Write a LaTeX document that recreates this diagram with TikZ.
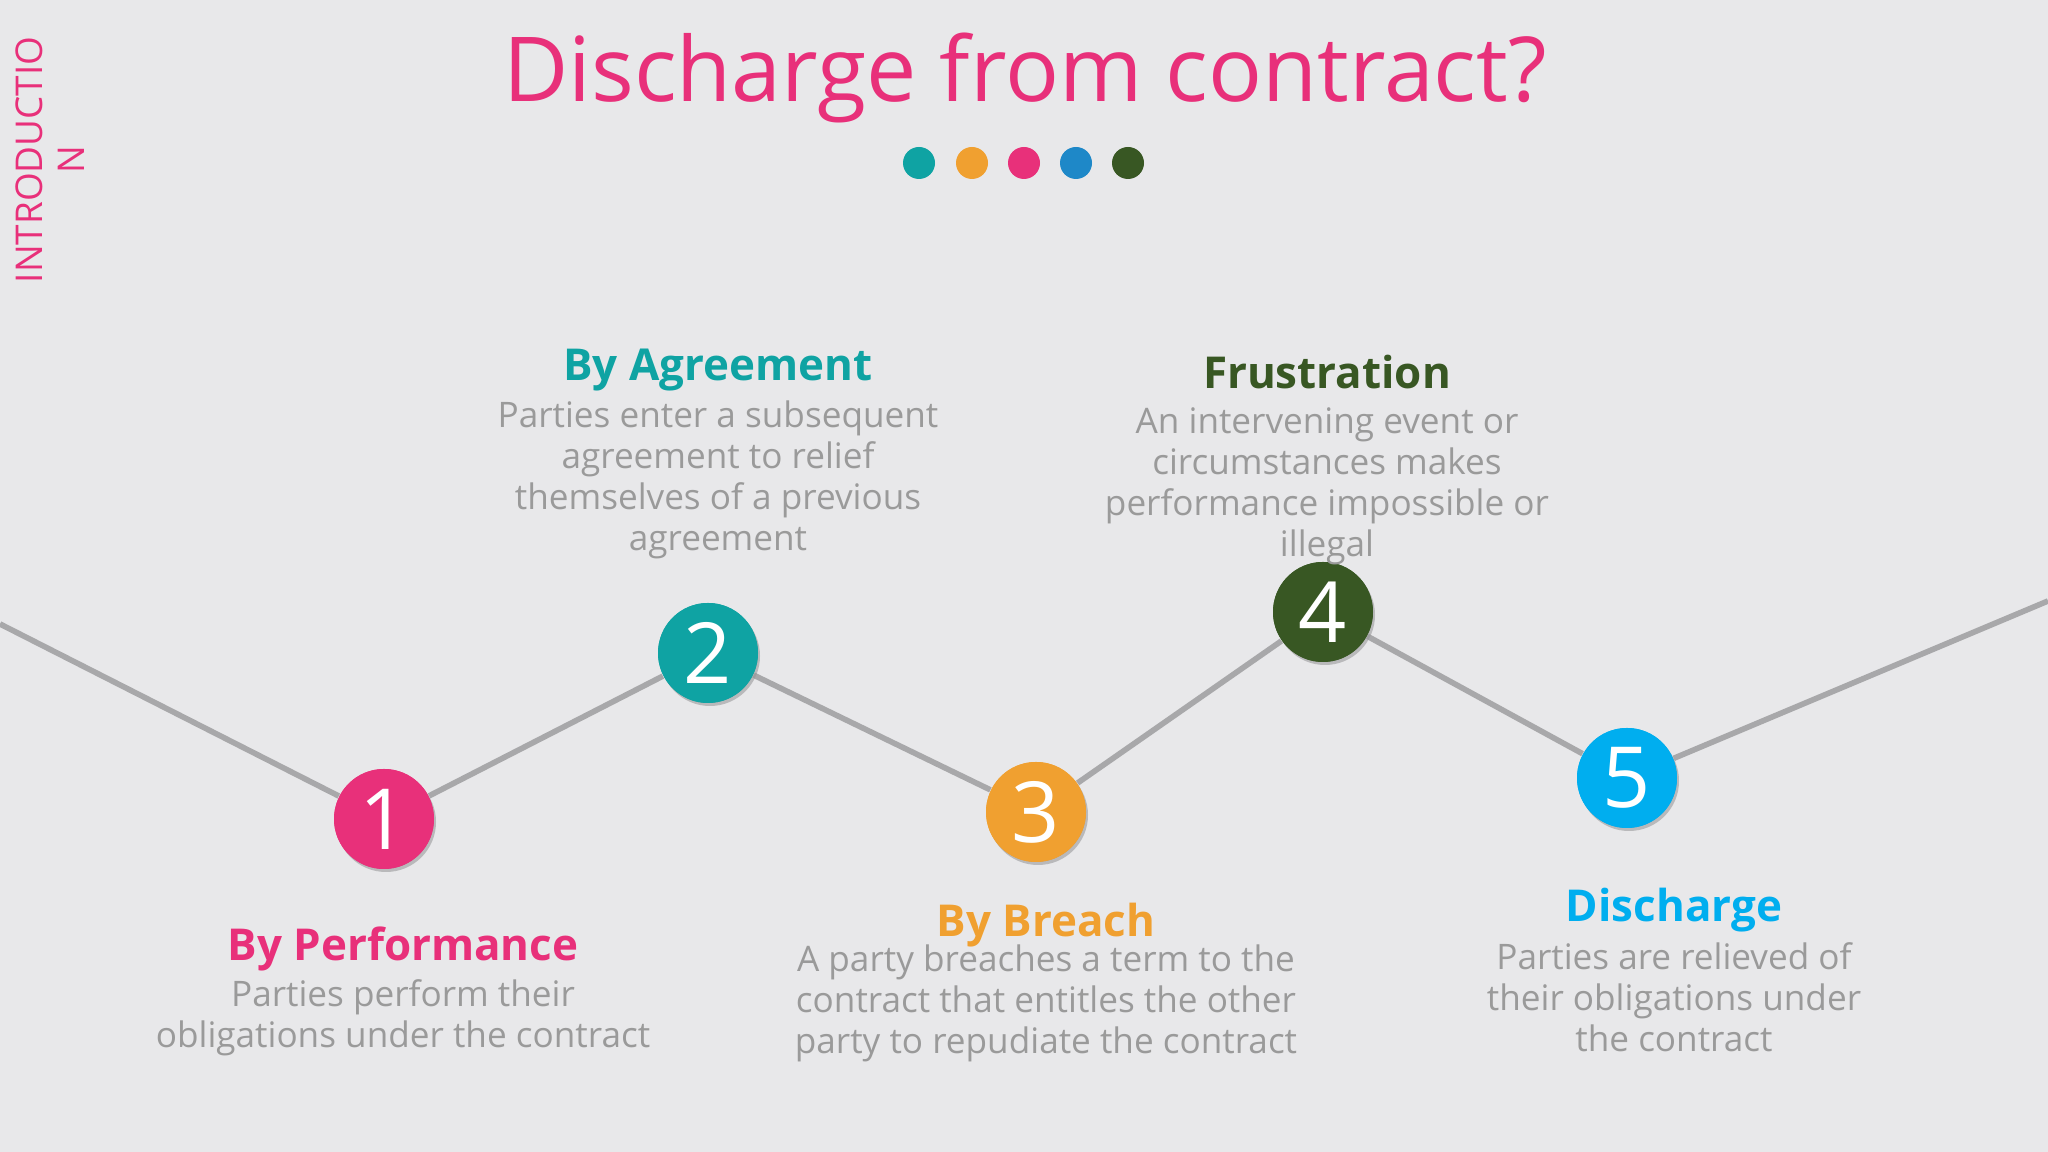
\documentclass[tikz,border=0pt]{standalone}
\usepackage{fontspec}
\setmainfont{Open Sans}
\usetikzlibrary{shadows}
\definecolor{bg}{HTML}{E8E8EA}
\definecolor{cpink}{HTML}{E8307A}
\definecolor{cteal}{HTML}{0FA3A3}
\definecolor{corange}{HTML}{F0A030}
\definecolor{cblue}{HTML}{1E88C8}
\definecolor{cgreen}{HTML}{385723}
\definecolor{ccyan}{HTML}{00AEEF}
\definecolor{cgray}{HTML}{9A9A9A}
\definecolor{cline}{HTML}{A8A8AA}
\tikzset{
 num/.style={circle,minimum size=1cm,inner sep=0,text=white,font=\fontsize{24}{24}\selectfont,drop shadow={shadow xshift=0.02cm,shadow yshift=-0.03cm,opacity=0.25}},
 ttl/.style={font=\fontsize{12.5}{15}\selectfont\bfseries,inner sep=0},
 body/.style={font=\fontsize{10}{11.7}\selectfont,text=cgray,align=center,anchor=north,inner sep=0},
 dot/.style={circle,minimum size=0.32cm,inner sep=0}
}
\begin{document}
\begin{tikzpicture}[x=1cm,y=1cm]
\fill[bg] (0,0) rectangle (20.48,11.52);
\useasboundingbox (0,0) rectangle (20.48,11.52);
\node[text=cpink,font=\fontsize{25.5}{28}\selectfont,inner sep=0] (title) at (10.25,10.74) {Discharge from contract?};
\node[text=cpink,font=\fontsize{10.5}{12}\selectfont,rotate=90,align=center,inner sep=0] (intro) at (0.5,9.92) {INTRODUCTIO\\N};
\foreach \x/\c/\n in {9.19/cteal/d1,9.72/corange/d2,10.24/cpink/d3,10.76/cblue/d4,11.28/cgreen/d5}
  \node[dot,fill=\c] (\n) at (\x,9.89) {};
\coordinate (L) at (0,5.28);
\coordinate (R) at (20.48,5.51);
\node[num,fill=cpink] (n1) at (3.84,3.33) {1};
\node[num,fill=cteal] (n2) at (7.08,4.99) {2};
\node[num,fill=corange] (n3) at (10.36,3.40) {3};
\node[num,fill=cgreen] (n4) at (13.23,5.40) {4};
\node[num,fill=ccyan] (n5) at (16.27,3.74) {5};
\draw[cline,line width=1.6pt] (L) -- (n1) -- (n2) -- (n3) -- (n4) -- (n5) -- (R);
\foreach \n/\c/\l in {1/cpink/1,2/cteal/2,3/corange/3,4/cgreen/4,5/ccyan/5}
  \node[num,fill=\c] at (n\n) {\l};
\node[ttl,text=cpink] (t1) at (4.03,2.03) {By Performance};
\node[body] (b1) at (4.03,1.73) {Parties perform their\\obligations under the contract};
\node[ttl,text=cteal] (t2) at (7.18,7.82) {By Agreement};
\node[body] (b2) at (7.18,7.52) {Parties enter a subsequent\\agreement to relief\\themselves of a previous\\agreement};
\node[ttl,text=corange] (t3) at (10.46,2.27) {By Breach};
\node[body] (b3) at (10.46,2.08) {A party breaches a term to the\\contract that entitles the other\\party to repudiate the contract};
\node[ttl,text=cgreen] (t4) at (13.27,7.80) {Frustration};
\node[body] (b4) at (13.27,7.45) {An intervening event or\\circumstances makes\\performance impossible or\\illegal};
\node[ttl,text=ccyan] (t5) at (16.74,2.42) {Discharge};
\node[body] (b5) at (16.74,2.10) {Parties are relieved of\\their obligations under\\the contract};
\end{tikzpicture}
\end{document}
